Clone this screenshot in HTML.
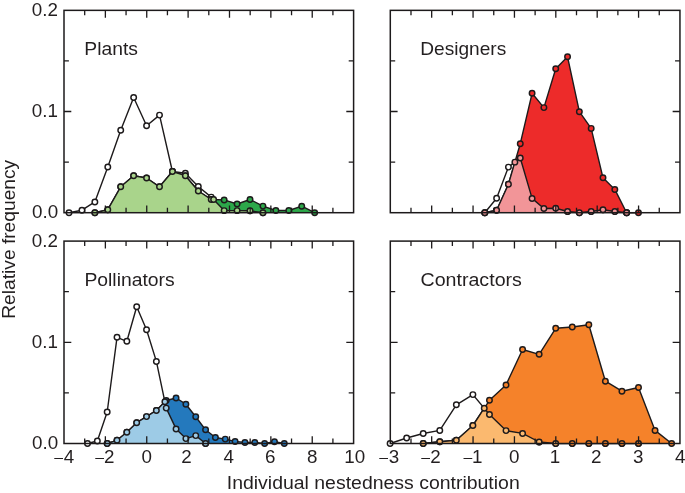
<!DOCTYPE html>
<html><head><meta charset="utf-8"><title>Individual nestedness contribution</title>
<style>
html,body{margin:0;padding:0;background:#fff;}
body{width:685px;height:493px;overflow:hidden;}
svg{display:block;}
text{font-family:"Liberation Sans",Arial,Helvetica,sans-serif;fill:#231f20;}
</style></head><body>
<svg width="685" height="493" viewBox="0 0 685 493">
<rect width="685" height="493" fill="#fff"/>
<g id="plants"><polyline points="69.00,212.70 81.93,210.20 94.86,201.90 107.79,166.90 120.72,130.20 133.65,97.50 146.58,125.70 159.51,115.10 172.44,171.50 185.37,173.20 198.30,186.50 211.23,197.10 224.16,210.60 237.09,210.60 250.02,210.80 262.95,212.70" fill="none" stroke="#1d1a1b" stroke-width="1.4" stroke-linejoin="round"/>
<circle cx="69.00" cy="212.70" r="2.75" fill="#fff" stroke="#1d1a1b" stroke-width="1.45"/>
<circle cx="81.93" cy="210.20" r="2.75" fill="#fff" stroke="#1d1a1b" stroke-width="1.45"/>
<circle cx="94.86" cy="201.90" r="2.75" fill="#fff" stroke="#1d1a1b" stroke-width="1.45"/>
<circle cx="107.79" cy="166.90" r="2.75" fill="#fff" stroke="#1d1a1b" stroke-width="1.45"/>
<circle cx="120.72" cy="130.20" r="2.75" fill="#fff" stroke="#1d1a1b" stroke-width="1.45"/>
<circle cx="133.65" cy="97.50" r="2.75" fill="#fff" stroke="#1d1a1b" stroke-width="1.45"/>
<circle cx="146.58" cy="125.70" r="2.75" fill="#fff" stroke="#1d1a1b" stroke-width="1.45"/>
<circle cx="159.51" cy="115.10" r="2.75" fill="#fff" stroke="#1d1a1b" stroke-width="1.45"/>
<circle cx="172.44" cy="171.50" r="2.75" fill="#fff" stroke="#1d1a1b" stroke-width="1.45"/>
<circle cx="185.37" cy="173.20" r="2.75" fill="#fff" stroke="#1d1a1b" stroke-width="1.45"/>
<circle cx="198.30" cy="186.50" r="2.75" fill="#fff" stroke="#1d1a1b" stroke-width="1.45"/>
<circle cx="211.23" cy="197.10" r="2.75" fill="#fff" stroke="#1d1a1b" stroke-width="1.45"/>
<circle cx="224.16" cy="210.60" r="2.75" fill="#fff" stroke="#1d1a1b" stroke-width="1.45"/>
<circle cx="237.09" cy="210.60" r="2.75" fill="#fff" stroke="#1d1a1b" stroke-width="1.45"/>
<circle cx="250.02" cy="210.80" r="2.75" fill="#fff" stroke="#1d1a1b" stroke-width="1.45"/>
<circle cx="262.95" cy="212.70" r="2.75" fill="#fff" stroke="#1d1a1b" stroke-width="1.45"/>
<polygon points="94.86,212.70 107.79,209.70 120.72,186.80 133.65,175.70 146.58,178.00 159.51,186.80 172.44,171.50 185.37,175.70 198.30,191.00 211.23,199.50 224.16,199.90 237.09,204.00 250.02,199.50 262.95,206.10 275.88,210.50 288.81,210.50 301.74,206.20 314.67,212.70 314.67,212.70 94.86,212.70" fill="#2da84a" stroke="none"/>
<polyline points="94.86,212.70 107.79,209.70 120.72,186.80 133.65,175.70 146.58,178.00 159.51,186.80 172.44,171.50 185.37,175.70 198.30,191.00 211.23,199.50 224.16,199.90 237.09,204.00 250.02,199.50 262.95,206.10 275.88,210.50 288.81,210.50 301.74,206.20 314.67,212.70" fill="none" stroke="#1d1a1b" stroke-width="1.4" stroke-linejoin="round"/>
<circle cx="94.86" cy="212.70" r="2.75" fill="#2da84a" stroke="#1d1a1b" stroke-width="1.45"/>
<circle cx="107.79" cy="209.70" r="2.75" fill="#2da84a" stroke="#1d1a1b" stroke-width="1.45"/>
<circle cx="120.72" cy="186.80" r="2.75" fill="#2da84a" stroke="#1d1a1b" stroke-width="1.45"/>
<circle cx="133.65" cy="175.70" r="2.75" fill="#2da84a" stroke="#1d1a1b" stroke-width="1.45"/>
<circle cx="146.58" cy="178.00" r="2.75" fill="#2da84a" stroke="#1d1a1b" stroke-width="1.45"/>
<circle cx="159.51" cy="186.80" r="2.75" fill="#2da84a" stroke="#1d1a1b" stroke-width="1.45"/>
<circle cx="172.44" cy="171.50" r="2.75" fill="#2da84a" stroke="#1d1a1b" stroke-width="1.45"/>
<circle cx="185.37" cy="175.70" r="2.75" fill="#2da84a" stroke="#1d1a1b" stroke-width="1.45"/>
<circle cx="198.30" cy="191.00" r="2.75" fill="#2da84a" stroke="#1d1a1b" stroke-width="1.45"/>
<circle cx="211.23" cy="199.50" r="2.75" fill="#2da84a" stroke="#1d1a1b" stroke-width="1.45"/>
<circle cx="224.16" cy="199.90" r="2.75" fill="#2da84a" stroke="#1d1a1b" stroke-width="1.45"/>
<circle cx="237.09" cy="204.00" r="2.75" fill="#2da84a" stroke="#1d1a1b" stroke-width="1.45"/>
<circle cx="250.02" cy="199.50" r="2.75" fill="#2da84a" stroke="#1d1a1b" stroke-width="1.45"/>
<circle cx="262.95" cy="206.10" r="2.75" fill="#2da84a" stroke="#1d1a1b" stroke-width="1.45"/>
<circle cx="275.88" cy="210.50" r="2.75" fill="#2da84a" stroke="#1d1a1b" stroke-width="1.45"/>
<circle cx="288.81" cy="210.50" r="2.75" fill="#2da84a" stroke="#1d1a1b" stroke-width="1.45"/>
<circle cx="301.74" cy="206.20" r="2.75" fill="#2da84a" stroke="#1d1a1b" stroke-width="1.45"/>
<circle cx="314.67" cy="212.70" r="2.75" fill="#2da84a" stroke="#1d1a1b" stroke-width="1.45"/>
<polygon points="94.86,212.70 107.79,209.70 120.72,186.80 133.65,175.70 146.58,178.00 159.51,186.80 172.44,171.50 185.37,175.70 198.30,191.00 211.23,199.50 213.60,199.57 224.16,210.60 237.09,210.60 250.02,210.80 262.95,212.70 262.95,212.70 94.86,212.70" fill="#a9d48b" stroke="none"/>
<polyline points="94.86,212.70 107.79,209.70 120.72,186.80 133.65,175.70 146.58,178.00 159.51,186.80 172.44,171.50 185.37,175.70 198.30,191.00 211.23,199.50 213.60,199.57 224.16,210.60 237.09,210.60 250.02,210.80 262.95,212.70" fill="none" stroke="#1d1a1b" stroke-width="1.4" stroke-linejoin="round"/>
<circle cx="94.86" cy="212.70" r="2.75" fill="#a9d48b" stroke="#1d1a1b" stroke-width="1.45"/>
<circle cx="107.79" cy="209.70" r="2.75" fill="#a9d48b" stroke="#1d1a1b" stroke-width="1.45"/>
<circle cx="120.72" cy="186.80" r="2.75" fill="#a9d48b" stroke="#1d1a1b" stroke-width="1.45"/>
<circle cx="133.65" cy="175.70" r="2.75" fill="#a9d48b" stroke="#1d1a1b" stroke-width="1.45"/>
<circle cx="146.58" cy="178.00" r="2.75" fill="#a9d48b" stroke="#1d1a1b" stroke-width="1.45"/>
<circle cx="159.51" cy="186.80" r="2.75" fill="#a9d48b" stroke="#1d1a1b" stroke-width="1.45"/>
<circle cx="172.44" cy="171.50" r="2.75" fill="#a9d48b" stroke="#1d1a1b" stroke-width="1.45"/>
<circle cx="185.37" cy="175.70" r="2.75" fill="#a9d48b" stroke="#1d1a1b" stroke-width="1.45"/>
<circle cx="198.30" cy="191.00" r="2.75" fill="#a9d48b" stroke="#1d1a1b" stroke-width="1.45"/>
<circle cx="211.23" cy="199.50" r="2.75" fill="#a9d48b" stroke="#1d1a1b" stroke-width="1.45"/>
<circle cx="213.60" cy="199.57" r="2.75" fill="#a9d48b" stroke="#1d1a1b" stroke-width="1.45"/>
<circle cx="224.16" cy="210.60" r="2.75" fill="#a9d48b" stroke="#1d1a1b" stroke-width="1.45"/>
<circle cx="237.09" cy="210.60" r="2.75" fill="#a9d48b" stroke="#1d1a1b" stroke-width="1.45"/>
<circle cx="250.02" cy="210.80" r="2.75" fill="#a9d48b" stroke="#1d1a1b" stroke-width="1.45"/>
<circle cx="262.95" cy="212.70" r="2.75" fill="#a9d48b" stroke="#1d1a1b" stroke-width="1.45"/></g>
<g id="designers"><polyline points="484.80,212.70 496.62,198.20 508.44,167.10 520.26,158.00 532.08,198.40 543.90,208.50 555.72,208.30 567.54,211.50 579.36,212.70 591.18,211.50 603.00,209.80 614.82,211.50 626.64,212.70" fill="none" stroke="#1d1a1b" stroke-width="1.4" stroke-linejoin="round"/>
<circle cx="484.80" cy="212.70" r="2.75" fill="#fff" stroke="#1d1a1b" stroke-width="1.45"/>
<circle cx="496.62" cy="198.20" r="2.75" fill="#fff" stroke="#1d1a1b" stroke-width="1.45"/>
<circle cx="508.44" cy="167.10" r="2.75" fill="#fff" stroke="#1d1a1b" stroke-width="1.45"/>
<circle cx="520.26" cy="158.00" r="2.75" fill="#fff" stroke="#1d1a1b" stroke-width="1.45"/>
<circle cx="532.08" cy="198.40" r="2.75" fill="#fff" stroke="#1d1a1b" stroke-width="1.45"/>
<circle cx="543.90" cy="208.50" r="2.75" fill="#fff" stroke="#1d1a1b" stroke-width="1.45"/>
<circle cx="555.72" cy="208.30" r="2.75" fill="#fff" stroke="#1d1a1b" stroke-width="1.45"/>
<circle cx="567.54" cy="211.50" r="2.75" fill="#fff" stroke="#1d1a1b" stroke-width="1.45"/>
<circle cx="579.36" cy="212.70" r="2.75" fill="#fff" stroke="#1d1a1b" stroke-width="1.45"/>
<circle cx="591.18" cy="211.50" r="2.75" fill="#fff" stroke="#1d1a1b" stroke-width="1.45"/>
<circle cx="603.00" cy="209.80" r="2.75" fill="#fff" stroke="#1d1a1b" stroke-width="1.45"/>
<circle cx="614.82" cy="211.50" r="2.75" fill="#fff" stroke="#1d1a1b" stroke-width="1.45"/>
<circle cx="626.64" cy="212.70" r="2.75" fill="#fff" stroke="#1d1a1b" stroke-width="1.45"/>
<polygon points="484.80,212.70 496.62,210.20 508.44,184.20 520.26,143.70 532.08,93.30 543.90,107.60 555.72,68.70 567.54,56.80 579.36,111.70 591.18,128.40 603.00,177.80 614.82,189.40 626.64,212.70 638.46,212.70 638.46,212.70 484.80,212.70" fill="#ed2b2a" stroke="none"/>
<polyline points="484.80,212.70 496.62,210.20 508.44,184.20 520.26,143.70 532.08,93.30 543.90,107.60 555.72,68.70 567.54,56.80 579.36,111.70 591.18,128.40 603.00,177.80 614.82,189.40 626.64,212.70 638.46,212.70" fill="none" stroke="#1d1a1b" stroke-width="1.4" stroke-linejoin="round"/>
<circle cx="484.80" cy="212.70" r="2.75" fill="#ed2b2a" stroke="#1d1a1b" stroke-width="1.45"/>
<circle cx="496.62" cy="210.20" r="2.75" fill="#ed2b2a" stroke="#1d1a1b" stroke-width="1.45"/>
<circle cx="508.44" cy="184.20" r="2.75" fill="#ed2b2a" stroke="#1d1a1b" stroke-width="1.45"/>
<circle cx="520.26" cy="143.70" r="2.75" fill="#ed2b2a" stroke="#1d1a1b" stroke-width="1.45"/>
<circle cx="532.08" cy="93.30" r="2.75" fill="#ed2b2a" stroke="#1d1a1b" stroke-width="1.45"/>
<circle cx="543.90" cy="107.60" r="2.75" fill="#ed2b2a" stroke="#1d1a1b" stroke-width="1.45"/>
<circle cx="555.72" cy="68.70" r="2.75" fill="#ed2b2a" stroke="#1d1a1b" stroke-width="1.45"/>
<circle cx="567.54" cy="56.80" r="2.75" fill="#ed2b2a" stroke="#1d1a1b" stroke-width="1.45"/>
<circle cx="579.36" cy="111.70" r="2.75" fill="#ed2b2a" stroke="#1d1a1b" stroke-width="1.45"/>
<circle cx="591.18" cy="128.40" r="2.75" fill="#ed2b2a" stroke="#1d1a1b" stroke-width="1.45"/>
<circle cx="603.00" cy="177.80" r="2.75" fill="#ed2b2a" stroke="#1d1a1b" stroke-width="1.45"/>
<circle cx="614.82" cy="189.40" r="2.75" fill="#ed2b2a" stroke="#1d1a1b" stroke-width="1.45"/>
<circle cx="626.64" cy="212.70" r="2.75" fill="#ed2b2a" stroke="#1d1a1b" stroke-width="1.45"/>
<circle cx="638.46" cy="212.70" r="2.75" fill="#ed2b2a" stroke="#1d1a1b" stroke-width="1.45"/>
<polygon points="484.80,212.70 496.62,210.20 508.44,184.20 514.88,162.14 520.26,158.00 532.08,198.40 543.90,208.50 555.72,208.30 567.54,211.50 579.36,212.70 591.18,211.50 603.00,209.80 614.82,211.50 626.64,212.70 626.64,212.70 484.80,212.70" fill="#f29598" stroke="none"/>
<polyline points="484.80,212.70 496.62,210.20 508.44,184.20 514.88,162.14 520.26,158.00 532.08,198.40 543.90,208.50 555.72,208.30 567.54,211.50 579.36,212.70 591.18,211.50 603.00,209.80 614.82,211.50 626.64,212.70" fill="none" stroke="#1d1a1b" stroke-width="1.4" stroke-linejoin="round"/>
<circle cx="484.80" cy="212.70" r="2.75" fill="#f29598" stroke="#1d1a1b" stroke-width="1.45"/>
<circle cx="496.62" cy="210.20" r="2.75" fill="#f29598" stroke="#1d1a1b" stroke-width="1.45"/>
<circle cx="508.44" cy="184.20" r="2.75" fill="#f29598" stroke="#1d1a1b" stroke-width="1.45"/>
<circle cx="514.88" cy="162.14" r="2.75" fill="#f29598" stroke="#1d1a1b" stroke-width="1.45"/>
<circle cx="520.26" cy="158.00" r="2.75" fill="#f29598" stroke="#1d1a1b" stroke-width="1.45"/>
<circle cx="532.08" cy="198.40" r="2.75" fill="#f29598" stroke="#1d1a1b" stroke-width="1.45"/>
<circle cx="543.90" cy="208.50" r="2.75" fill="#f29598" stroke="#1d1a1b" stroke-width="1.45"/>
<circle cx="555.72" cy="208.30" r="2.75" fill="#f29598" stroke="#1d1a1b" stroke-width="1.45"/>
<circle cx="567.54" cy="211.50" r="2.75" fill="#f29598" stroke="#1d1a1b" stroke-width="1.45"/>
<circle cx="579.36" cy="212.70" r="2.75" fill="#f29598" stroke="#1d1a1b" stroke-width="1.45"/>
<circle cx="591.18" cy="211.50" r="2.75" fill="#f29598" stroke="#1d1a1b" stroke-width="1.45"/>
<circle cx="603.00" cy="209.80" r="2.75" fill="#f29598" stroke="#1d1a1b" stroke-width="1.45"/>
<circle cx="614.82" cy="211.50" r="2.75" fill="#f29598" stroke="#1d1a1b" stroke-width="1.45"/>
<circle cx="626.64" cy="212.70" r="2.75" fill="#f29598" stroke="#1d1a1b" stroke-width="1.45"/></g>
<g id="pollinators"><polyline points="87.50,443.50 97.34,441.00 107.18,412.00 117.02,337.30 126.86,341.30 136.70,306.80 146.54,329.70 156.38,361.40 166.22,408.10 176.06,428.90 185.90,438.60 195.74,435.60 205.58,443.50" fill="none" stroke="#1d1a1b" stroke-width="1.4" stroke-linejoin="round"/>
<circle cx="87.50" cy="443.50" r="2.75" fill="#fff" stroke="#1d1a1b" stroke-width="1.45"/>
<circle cx="97.34" cy="441.00" r="2.75" fill="#fff" stroke="#1d1a1b" stroke-width="1.45"/>
<circle cx="107.18" cy="412.00" r="2.75" fill="#fff" stroke="#1d1a1b" stroke-width="1.45"/>
<circle cx="117.02" cy="337.30" r="2.75" fill="#fff" stroke="#1d1a1b" stroke-width="1.45"/>
<circle cx="126.86" cy="341.30" r="2.75" fill="#fff" stroke="#1d1a1b" stroke-width="1.45"/>
<circle cx="136.70" cy="306.80" r="2.75" fill="#fff" stroke="#1d1a1b" stroke-width="1.45"/>
<circle cx="146.54" cy="329.70" r="2.75" fill="#fff" stroke="#1d1a1b" stroke-width="1.45"/>
<circle cx="156.38" cy="361.40" r="2.75" fill="#fff" stroke="#1d1a1b" stroke-width="1.45"/>
<circle cx="166.22" cy="408.10" r="2.75" fill="#fff" stroke="#1d1a1b" stroke-width="1.45"/>
<circle cx="176.06" cy="428.90" r="2.75" fill="#fff" stroke="#1d1a1b" stroke-width="1.45"/>
<circle cx="185.90" cy="438.60" r="2.75" fill="#fff" stroke="#1d1a1b" stroke-width="1.45"/>
<circle cx="195.74" cy="435.60" r="2.75" fill="#fff" stroke="#1d1a1b" stroke-width="1.45"/>
<circle cx="205.58" cy="443.50" r="2.75" fill="#fff" stroke="#1d1a1b" stroke-width="1.45"/>
<polygon points="107.18,443.50 117.02,440.30 126.86,432.20 136.70,422.70 146.54,416.60 156.38,410.40 166.22,400.50 176.06,398.00 185.90,404.20 195.74,416.80 205.58,429.80 215.42,437.50 225.26,439.10 235.10,441.40 244.94,442.40 254.78,442.40 264.62,443.50 274.46,441.70 284.30,443.50 284.30,443.50 107.18,443.50" fill="#2479bd" stroke="none"/>
<polyline points="107.18,443.50 117.02,440.30 126.86,432.20 136.70,422.70 146.54,416.60 156.38,410.40 166.22,400.50 176.06,398.00 185.90,404.20 195.74,416.80 205.58,429.80 215.42,437.50 225.26,439.10 235.10,441.40 244.94,442.40 254.78,442.40 264.62,443.50 274.46,441.70 284.30,443.50" fill="none" stroke="#1d1a1b" stroke-width="1.4" stroke-linejoin="round"/>
<circle cx="107.18" cy="443.50" r="2.75" fill="#2479bd" stroke="#1d1a1b" stroke-width="1.45"/>
<circle cx="117.02" cy="440.30" r="2.75" fill="#2479bd" stroke="#1d1a1b" stroke-width="1.45"/>
<circle cx="126.86" cy="432.20" r="2.75" fill="#2479bd" stroke="#1d1a1b" stroke-width="1.45"/>
<circle cx="136.70" cy="422.70" r="2.75" fill="#2479bd" stroke="#1d1a1b" stroke-width="1.45"/>
<circle cx="146.54" cy="416.60" r="2.75" fill="#2479bd" stroke="#1d1a1b" stroke-width="1.45"/>
<circle cx="156.38" cy="410.40" r="2.75" fill="#2479bd" stroke="#1d1a1b" stroke-width="1.45"/>
<circle cx="166.22" cy="400.50" r="2.75" fill="#2479bd" stroke="#1d1a1b" stroke-width="1.45"/>
<circle cx="176.06" cy="398.00" r="2.75" fill="#2479bd" stroke="#1d1a1b" stroke-width="1.45"/>
<circle cx="185.90" cy="404.20" r="2.75" fill="#2479bd" stroke="#1d1a1b" stroke-width="1.45"/>
<circle cx="195.74" cy="416.80" r="2.75" fill="#2479bd" stroke="#1d1a1b" stroke-width="1.45"/>
<circle cx="205.58" cy="429.80" r="2.75" fill="#2479bd" stroke="#1d1a1b" stroke-width="1.45"/>
<circle cx="215.42" cy="437.50" r="2.75" fill="#2479bd" stroke="#1d1a1b" stroke-width="1.45"/>
<circle cx="225.26" cy="439.10" r="2.75" fill="#2479bd" stroke="#1d1a1b" stroke-width="1.45"/>
<circle cx="235.10" cy="441.40" r="2.75" fill="#2479bd" stroke="#1d1a1b" stroke-width="1.45"/>
<circle cx="244.94" cy="442.40" r="2.75" fill="#2479bd" stroke="#1d1a1b" stroke-width="1.45"/>
<circle cx="254.78" cy="442.40" r="2.75" fill="#2479bd" stroke="#1d1a1b" stroke-width="1.45"/>
<circle cx="264.62" cy="443.50" r="2.75" fill="#2479bd" stroke="#1d1a1b" stroke-width="1.45"/>
<circle cx="274.46" cy="441.70" r="2.75" fill="#2479bd" stroke="#1d1a1b" stroke-width="1.45"/>
<circle cx="284.30" cy="443.50" r="2.75" fill="#2479bd" stroke="#1d1a1b" stroke-width="1.45"/>
<polygon points="107.18,443.50 117.02,440.30 126.86,432.20 136.70,422.70 146.54,416.60 156.38,410.40 164.90,401.83 166.22,408.10 176.06,428.90 185.90,438.60 195.74,435.60 205.58,443.50 205.58,443.50 107.18,443.50" fill="#9dcbe6" stroke="none"/>
<polyline points="107.18,443.50 117.02,440.30 126.86,432.20 136.70,422.70 146.54,416.60 156.38,410.40 164.90,401.83 166.22,408.10 176.06,428.90 185.90,438.60 195.74,435.60 205.58,443.50" fill="none" stroke="#1d1a1b" stroke-width="1.4" stroke-linejoin="round"/>
<circle cx="107.18" cy="443.50" r="2.75" fill="#9dcbe6" stroke="#1d1a1b" stroke-width="1.45"/>
<circle cx="117.02" cy="440.30" r="2.75" fill="#9dcbe6" stroke="#1d1a1b" stroke-width="1.45"/>
<circle cx="126.86" cy="432.20" r="2.75" fill="#9dcbe6" stroke="#1d1a1b" stroke-width="1.45"/>
<circle cx="136.70" cy="422.70" r="2.75" fill="#9dcbe6" stroke="#1d1a1b" stroke-width="1.45"/>
<circle cx="146.54" cy="416.60" r="2.75" fill="#9dcbe6" stroke="#1d1a1b" stroke-width="1.45"/>
<circle cx="156.38" cy="410.40" r="2.75" fill="#9dcbe6" stroke="#1d1a1b" stroke-width="1.45"/>
<circle cx="164.90" cy="401.83" r="2.75" fill="#9dcbe6" stroke="#1d1a1b" stroke-width="1.45"/>
<circle cx="166.22" cy="408.10" r="2.75" fill="#9dcbe6" stroke="#1d1a1b" stroke-width="1.45"/>
<circle cx="176.06" cy="428.90" r="2.75" fill="#9dcbe6" stroke="#1d1a1b" stroke-width="1.45"/>
<circle cx="185.90" cy="438.60" r="2.75" fill="#9dcbe6" stroke="#1d1a1b" stroke-width="1.45"/>
<circle cx="195.74" cy="435.60" r="2.75" fill="#9dcbe6" stroke="#1d1a1b" stroke-width="1.45"/>
<circle cx="205.58" cy="443.50" r="2.75" fill="#9dcbe6" stroke="#1d1a1b" stroke-width="1.45"/></g>
<g id="contractors"><polyline points="390.10,443.50 406.66,438.00 423.22,433.50 439.78,430.40 456.34,404.80 472.90,394.60 489.46,414.50 506.02,430.60 522.58,433.40 539.14,442.00 555.70,443.50 572.26,443.50 588.82,443.50 605.38,443.50 621.94,443.50 638.50,443.50" fill="none" stroke="#1d1a1b" stroke-width="1.4" stroke-linejoin="round"/>
<circle cx="390.10" cy="443.50" r="2.75" fill="#fff" stroke="#1d1a1b" stroke-width="1.45"/>
<circle cx="406.66" cy="438.00" r="2.75" fill="#fff" stroke="#1d1a1b" stroke-width="1.45"/>
<circle cx="423.22" cy="433.50" r="2.75" fill="#fff" stroke="#1d1a1b" stroke-width="1.45"/>
<circle cx="439.78" cy="430.40" r="2.75" fill="#fff" stroke="#1d1a1b" stroke-width="1.45"/>
<circle cx="456.34" cy="404.80" r="2.75" fill="#fff" stroke="#1d1a1b" stroke-width="1.45"/>
<circle cx="472.90" cy="394.60" r="2.75" fill="#fff" stroke="#1d1a1b" stroke-width="1.45"/>
<circle cx="489.46" cy="414.50" r="2.75" fill="#fff" stroke="#1d1a1b" stroke-width="1.45"/>
<circle cx="506.02" cy="430.60" r="2.75" fill="#fff" stroke="#1d1a1b" stroke-width="1.45"/>
<circle cx="522.58" cy="433.40" r="2.75" fill="#fff" stroke="#1d1a1b" stroke-width="1.45"/>
<circle cx="539.14" cy="442.00" r="2.75" fill="#fff" stroke="#1d1a1b" stroke-width="1.45"/>
<circle cx="555.70" cy="443.50" r="2.75" fill="#fff" stroke="#1d1a1b" stroke-width="1.45"/>
<circle cx="572.26" cy="443.50" r="2.75" fill="#fff" stroke="#1d1a1b" stroke-width="1.45"/>
<circle cx="588.82" cy="443.50" r="2.75" fill="#fff" stroke="#1d1a1b" stroke-width="1.45"/>
<circle cx="605.38" cy="443.50" r="2.75" fill="#fff" stroke="#1d1a1b" stroke-width="1.45"/>
<circle cx="621.94" cy="443.50" r="2.75" fill="#fff" stroke="#1d1a1b" stroke-width="1.45"/>
<circle cx="638.50" cy="443.50" r="2.75" fill="#fff" stroke="#1d1a1b" stroke-width="1.45"/>
<polygon points="423.22,443.50 439.78,441.70 456.34,440.30 472.90,425.50 489.46,400.30 506.02,384.90 522.58,349.50 539.14,354.30 555.70,328.30 572.26,327.00 588.82,324.80 605.38,381.20 621.94,391.20 638.50,387.50 655.06,430.40 671.62,443.50 671.62,443.50 423.22,443.50" fill="#f5822a" stroke="none"/>
<polyline points="423.22,443.50 439.78,441.70 456.34,440.30 472.90,425.50 489.46,400.30 506.02,384.90 522.58,349.50 539.14,354.30 555.70,328.30 572.26,327.00 588.82,324.80 605.38,381.20 621.94,391.20 638.50,387.50 655.06,430.40 671.62,443.50" fill="none" stroke="#1d1a1b" stroke-width="1.4" stroke-linejoin="round"/>
<circle cx="423.22" cy="443.50" r="2.75" fill="#f5822a" stroke="#1d1a1b" stroke-width="1.45"/>
<circle cx="439.78" cy="441.70" r="2.75" fill="#f5822a" stroke="#1d1a1b" stroke-width="1.45"/>
<circle cx="456.34" cy="440.30" r="2.75" fill="#f5822a" stroke="#1d1a1b" stroke-width="1.45"/>
<circle cx="472.90" cy="425.50" r="2.75" fill="#f5822a" stroke="#1d1a1b" stroke-width="1.45"/>
<circle cx="489.46" cy="400.30" r="2.75" fill="#f5822a" stroke="#1d1a1b" stroke-width="1.45"/>
<circle cx="506.02" cy="384.90" r="2.75" fill="#f5822a" stroke="#1d1a1b" stroke-width="1.45"/>
<circle cx="522.58" cy="349.50" r="2.75" fill="#f5822a" stroke="#1d1a1b" stroke-width="1.45"/>
<circle cx="539.14" cy="354.30" r="2.75" fill="#f5822a" stroke="#1d1a1b" stroke-width="1.45"/>
<circle cx="555.70" cy="328.30" r="2.75" fill="#f5822a" stroke="#1d1a1b" stroke-width="1.45"/>
<circle cx="572.26" cy="327.00" r="2.75" fill="#f5822a" stroke="#1d1a1b" stroke-width="1.45"/>
<circle cx="588.82" cy="324.80" r="2.75" fill="#f5822a" stroke="#1d1a1b" stroke-width="1.45"/>
<circle cx="605.38" cy="381.20" r="2.75" fill="#f5822a" stroke="#1d1a1b" stroke-width="1.45"/>
<circle cx="621.94" cy="391.20" r="2.75" fill="#f5822a" stroke="#1d1a1b" stroke-width="1.45"/>
<circle cx="638.50" cy="387.50" r="2.75" fill="#f5822a" stroke="#1d1a1b" stroke-width="1.45"/>
<circle cx="655.06" cy="430.40" r="2.75" fill="#f5822a" stroke="#1d1a1b" stroke-width="1.45"/>
<circle cx="671.62" cy="443.50" r="2.75" fill="#f5822a" stroke="#1d1a1b" stroke-width="1.45"/>
<polygon points="423.22,443.50 439.78,441.70 456.34,440.30 472.90,425.50 484.25,408.23 489.46,414.50 506.02,430.60 522.58,433.40 539.14,442.00 555.70,443.50 555.70,443.50 423.22,443.50" fill="#fbb96f" stroke="none"/>
<polyline points="423.22,443.50 439.78,441.70 456.34,440.30 472.90,425.50 484.25,408.23 489.46,414.50 506.02,430.60 522.58,433.40 539.14,442.00 555.70,443.50" fill="none" stroke="#1d1a1b" stroke-width="1.4" stroke-linejoin="round"/>
<circle cx="423.22" cy="443.50" r="2.75" fill="#fbb96f" stroke="#1d1a1b" stroke-width="1.45"/>
<circle cx="439.78" cy="441.70" r="2.75" fill="#fbb96f" stroke="#1d1a1b" stroke-width="1.45"/>
<circle cx="456.34" cy="440.30" r="2.75" fill="#fbb96f" stroke="#1d1a1b" stroke-width="1.45"/>
<circle cx="472.90" cy="425.50" r="2.75" fill="#fbb96f" stroke="#1d1a1b" stroke-width="1.45"/>
<circle cx="484.25" cy="408.23" r="2.75" fill="#fbb96f" stroke="#1d1a1b" stroke-width="1.45"/>
<circle cx="489.46" cy="414.50" r="2.75" fill="#fbb96f" stroke="#1d1a1b" stroke-width="1.45"/>
<circle cx="506.02" cy="430.60" r="2.75" fill="#fbb96f" stroke="#1d1a1b" stroke-width="1.45"/>
<circle cx="522.58" cy="433.40" r="2.75" fill="#fbb96f" stroke="#1d1a1b" stroke-width="1.45"/>
<circle cx="539.14" cy="442.00" r="2.75" fill="#fbb96f" stroke="#1d1a1b" stroke-width="1.45"/>
<circle cx="555.70" cy="443.50" r="2.75" fill="#fbb96f" stroke="#1d1a1b" stroke-width="1.45"/>
<circle cx="572.26" cy="443.50" r="2.75" fill="#f5822a" stroke="#1d1a1b" stroke-width="1.45"/>
<circle cx="588.82" cy="443.50" r="2.75" fill="#f5822a" stroke="#1d1a1b" stroke-width="1.45"/>
<circle cx="605.38" cy="443.50" r="2.75" fill="#f5822a" stroke="#1d1a1b" stroke-width="1.45"/>
<circle cx="621.94" cy="443.50" r="2.75" fill="#f5822a" stroke="#1d1a1b" stroke-width="1.45"/>
<circle cx="638.50" cy="443.50" r="2.75" fill="#f5822a" stroke="#1d1a1b" stroke-width="1.45"/></g>
<g id="frames">
<rect x="64.0" y="10.35" width="289.60" height="202.35" fill="none" stroke="#1d1a1b" stroke-width="1.5"/>
<path d="M84.69,10.35v4.9M84.69,212.7v-4.9M105.37,10.35v7.3M105.37,212.7v-7.3M126.06,10.35v4.9M126.06,212.7v-4.9M146.74,10.35v7.3M146.74,212.7v-7.3M167.43,10.35v4.9M167.43,212.7v-4.9M188.11,10.35v7.3M188.11,212.7v-7.3M208.80,10.35v4.9M208.80,212.7v-4.9M229.49,10.35v7.3M229.49,212.7v-7.3M250.17,10.35v4.9M250.17,212.7v-4.9M270.86,10.35v7.3M270.86,212.7v-7.3M291.54,10.35v4.9M291.54,212.7v-4.9M312.23,10.35v7.3M312.23,212.7v-7.3M332.91,10.35v4.9M332.91,212.7v-4.9M64.0,162.11h4.9M353.6,162.11h-4.9M64.0,111.52h7.3M353.6,111.52h-7.3M64.0,60.94h4.9M353.6,60.94h-4.9" fill="none" stroke="#1d1a1b" stroke-width="1.3"/>
<rect x="64.0" y="241.1" width="289.60" height="202.40" fill="none" stroke="#1d1a1b" stroke-width="1.5"/>
<path d="M84.69,241.1v4.9M84.69,443.5v-4.9M105.37,241.1v7.3M105.37,443.5v-7.3M126.06,241.1v4.9M126.06,443.5v-4.9M146.74,241.1v7.3M146.74,443.5v-7.3M167.43,241.1v4.9M167.43,443.5v-4.9M188.11,241.1v7.3M188.11,443.5v-7.3M208.80,241.1v4.9M208.80,443.5v-4.9M229.49,241.1v7.3M229.49,443.5v-7.3M250.17,241.1v4.9M250.17,443.5v-4.9M270.86,241.1v7.3M270.86,443.5v-7.3M291.54,241.1v4.9M291.54,443.5v-4.9M312.23,241.1v7.3M312.23,443.5v-7.3M332.91,241.1v4.9M332.91,443.5v-4.9M64.0,392.90h4.9M353.6,392.90h-4.9M64.0,342.30h7.3M353.6,342.30h-7.3M64.0,291.70h4.9M353.6,291.70h-4.9" fill="none" stroke="#1d1a1b" stroke-width="1.3"/>
<rect x="390.3" y="10.35" width="289.65" height="202.35" fill="none" stroke="#1d1a1b" stroke-width="1.5"/>
<path d="M410.99,10.35v4.9M410.99,212.7v-4.9M431.68,10.35v7.3M431.68,212.7v-7.3M452.37,10.35v4.9M452.37,212.7v-4.9M473.06,10.35v7.3M473.06,212.7v-7.3M493.75,10.35v4.9M493.75,212.7v-4.9M514.44,10.35v7.3M514.44,212.7v-7.3M535.12,10.35v4.9M535.12,212.7v-4.9M555.81,10.35v7.3M555.81,212.7v-7.3M576.50,10.35v4.9M576.50,212.7v-4.9M597.19,10.35v7.3M597.19,212.7v-7.3M617.88,10.35v4.9M617.88,212.7v-4.9M638.57,10.35v7.3M638.57,212.7v-7.3M659.26,10.35v4.9M659.26,212.7v-4.9M390.3,162.11h4.9M679.95,162.11h-4.9M390.3,111.52h7.3M679.95,111.52h-7.3M390.3,60.94h4.9M679.95,60.94h-4.9" fill="none" stroke="#1d1a1b" stroke-width="1.3"/>
<rect x="390.3" y="241.1" width="289.65" height="202.40" fill="none" stroke="#1d1a1b" stroke-width="1.5"/>
<path d="M410.99,241.1v4.9M410.99,443.5v-4.9M431.68,241.1v7.3M431.68,443.5v-7.3M452.37,241.1v4.9M452.37,443.5v-4.9M473.06,241.1v7.3M473.06,443.5v-7.3M493.75,241.1v4.9M493.75,443.5v-4.9M514.44,241.1v7.3M514.44,443.5v-7.3M535.12,241.1v4.9M535.12,443.5v-4.9M555.81,241.1v7.3M555.81,443.5v-7.3M576.50,241.1v4.9M576.50,443.5v-4.9M597.19,241.1v7.3M597.19,443.5v-7.3M617.88,241.1v4.9M617.88,443.5v-4.9M638.57,241.1v7.3M638.57,443.5v-7.3M659.26,241.1v4.9M659.26,443.5v-4.9M390.3,392.90h4.9M679.95,392.90h-4.9M390.3,342.30h7.3M679.95,342.30h-7.3M390.3,291.70h4.9M679.95,291.70h-4.9" fill="none" stroke="#1d1a1b" stroke-width="1.3"/>
</g>
<g id="labels">
<text transform="translate(32.12,218.4) scale(1.0750,1)" font-size="17.5">0.0</text>
<text transform="translate(31.86,117.22) scale(1.0750,1)" font-size="17.5">0.1</text>
<text transform="translate(31.73,16.05) scale(1.0750,1)" font-size="17.5">0.2</text>
<text transform="translate(32.12,449.2) scale(1.0750,1)" font-size="17.5">0.0</text>
<text transform="translate(31.86,348.0) scale(1.0750,1)" font-size="17.5">0.1</text>
<text transform="translate(31.73,246.8) scale(1.0750,1)" font-size="17.5">0.2</text>
<text transform="translate(0,463.3) scale(1.0750,1)" font-size="17.5"><tspan x="50.56" dy="-1.4" font-size="14.7">–</tspan><tspan x="59.23" dy="1.4">4</tspan></text>
<text transform="translate(0,463.3) scale(1.0750,1)" font-size="17.5"><tspan x="88.52" dy="-1.4" font-size="14.7">–</tspan><tspan x="96.85" dy="1.4">2</tspan></text>
<text transform="translate(141.38,463.3) scale(1.0750,1)" font-size="17.5">0</text>
<text transform="translate(181.26,463.3) scale(1.0750,1)" font-size="17.5">2</text>
<text transform="translate(223.43,463.3) scale(1.0750,1)" font-size="17.5">4</text>
<text transform="translate(265.04,463.3) scale(1.0750,1)" font-size="17.5">6</text>
<text transform="translate(306.91,463.3) scale(1.0750,1)" font-size="17.5">8</text>
<text transform="translate(344.28,463.3) scale(1.0750,1)" font-size="17.5">10</text>
<text transform="translate(0,463.3) scale(1.0750,1)" font-size="17.5"><tspan x="352.70" dy="-1.4" font-size="14.7">–</tspan><tspan x="361.59" dy="1.4">3</tspan></text>
<text transform="translate(0,463.3) scale(1.0750,1)" font-size="17.5"><tspan x="391.96" dy="-1.4" font-size="14.7">–</tspan><tspan x="400.15" dy="1.4">2</tspan></text>
<text transform="translate(0,463.3) scale(1.0750,1)" font-size="17.5"><tspan x="431.08" dy="-1.4" font-size="14.7">–</tspan><tspan x="439.11" dy="1.4">1</tspan></text>
<text transform="translate(508.98,463.3) scale(1.0750,1)" font-size="17.5">0</text>
<text transform="translate(549.74,463.3) scale(1.0750,1)" font-size="17.5">1</text>
<text transform="translate(591.01,463.3) scale(1.0750,1)" font-size="17.5">2</text>
<text transform="translate(633.06,463.3) scale(1.0750,1)" font-size="17.5">3</text>
<text transform="translate(675.03,463.3) scale(1.0750,1)" font-size="17.5">4</text>
<text transform="translate(84.32,54.8) scale(1.0550,1)" font-size="18.3">Plants</text>
<text transform="translate(420.33,54.8) scale(1.0434,1)" font-size="18.3">Designers</text>
<text transform="translate(84.41,285.6) scale(1.0571,1)" font-size="18.3">Pollinators</text>
<text transform="translate(420.46,285.6) scale(1.0731,1)" font-size="18.3">Contractors</text>
<text transform="translate(226.74,488.8) scale(1.0635,1)" font-size="18.3">Individual nestedness contribution</text>
<text transform="translate(15.2,318.77) rotate(-90) scale(1.0489,1)" font-size="18.3">Relative frequency</text>
</g>
</svg>
</body></html>
